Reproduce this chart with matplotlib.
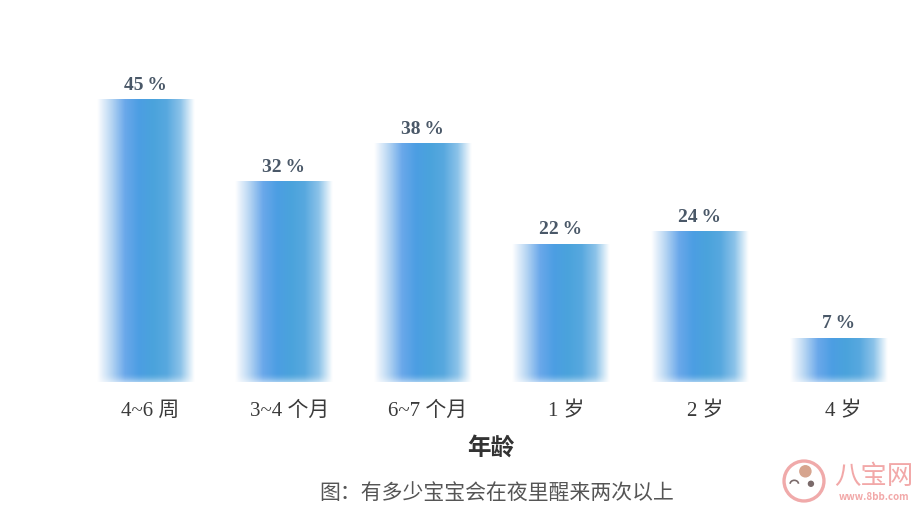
import numpy as np
import matplotlib
matplotlib.use("Agg")
import matplotlib.pyplot as plt
from matplotlib.colors import LinearSegmentedColormap
from matplotlib.patches import Circle, Arc

plt.rcParams['font.family'] = ['Noto Sans CJK SC', 'DejaVu Sans']

categories = ['4~6 周', '3~4 个月', '6~7 个月', '1 岁', '2 岁', '4 岁']
values = [45, 32, 38, 22, 24, 7]
value_labels = ['45 %', '32 %', '38 %', '22 %', '24 %', '7 %']

fig = plt.figure(figsize=(9.24, 5.08), dpi=100)
ax = fig.add_axes([0.082, 0.248, 0.9, 0.617])

# horizontal gradient: white edges, blue body
cmap = LinearSegmentedColormap.from_list(
    'bar', ['#ffffff', '#b8d6f3', '#6aa8ea', '#4c9ee3', '#4aa3dc',
            '#58a8df', '#8cc3e9', '#ffffff'])
prof = np.linspace(0, 1, 200)[None, :]
width = 0.7
for i, v in enumerate(values):
    x0, x1 = i - width / 2, i + width / 2
    ax.imshow(prof, extent=[x0, x1, 0, v], aspect='auto', cmap=cmap,
              interpolation='bicubic', zorder=2)
    # soft bottom fade
    fade = np.zeros((20, 1, 4))
    fade[..., :3] = 1
    fade[:, 0, 3] = np.linspace(0, 0.7, 20) ** 2
    ax.imshow(fade, extent=[x0, x1, 0, 1.5], aspect='auto', origin='upper',
              interpolation='bicubic', zorder=3)
    ax.text(i, v + 0.9, value_labels[i].replace(' ', '\u2009'), ha='center',
            va='bottom', fontsize=14, color='#4a5868', fontweight='semibold',
            family=['Liberation Serif', 'DejaVu Sans'])

ax.set_xlim(-0.5, 5.5)
ax.set_ylim(0, 50)
ax.axis('off')

for i, c in enumerate(categories):
    ax.text(i + 0.04, -3.2, c, ha='center', va='top', fontsize=15,
            color='#3a3a3a', family=['Liberation Serif', 'Noto Sans CJK SC'])

fig.text(0.531, 0.118, '年龄', ha='center', va='center', fontsize=17,
         fontweight='bold', color='#333333')
fig.text(0.537, 0.029, '图：有多少宝宝会在夜里醒来两次以上', ha='center',
         va='center', fontsize=15, color='#555555')

# watermark
logo = fig.add_axes([804 / 924 - 0.03, 1 - 481 / 508 - 0.06, 0.06, 0.12])
logo.set_xlim(-1, 1); logo.set_ylim(-1, 1); logo.set_aspect('equal'); logo.axis('off')
logo.add_patch(Circle((0, 0), 0.72, fill=False, ec='#f0aaaa', lw=2.4))
logo.add_patch(Circle((0.05, 0.35), 0.2, color='#d6a48e'))
logo.add_patch(Arc((-0.35, -0.1), 0.3, 0.25, theta1=0, theta2=180, color='#7a6a6a', lw=1.2))
logo.add_patch(Circle((0.25, -0.1), 0.09, color='#7a6a6a'))
fig.text(874 / 924, 1 - 476 / 508, '八宝网', ha='center', va='center',
         fontsize=19, color='#f2a8a8', fontweight='light')
fig.text(874 / 924, 1 - 497 / 508, 'www.8bb.com', ha='center', va='center',
         fontsize=7, color='#f2a8a8', fontweight='bold')

fig.savefig('out.png', dpi=100, facecolor='white')
